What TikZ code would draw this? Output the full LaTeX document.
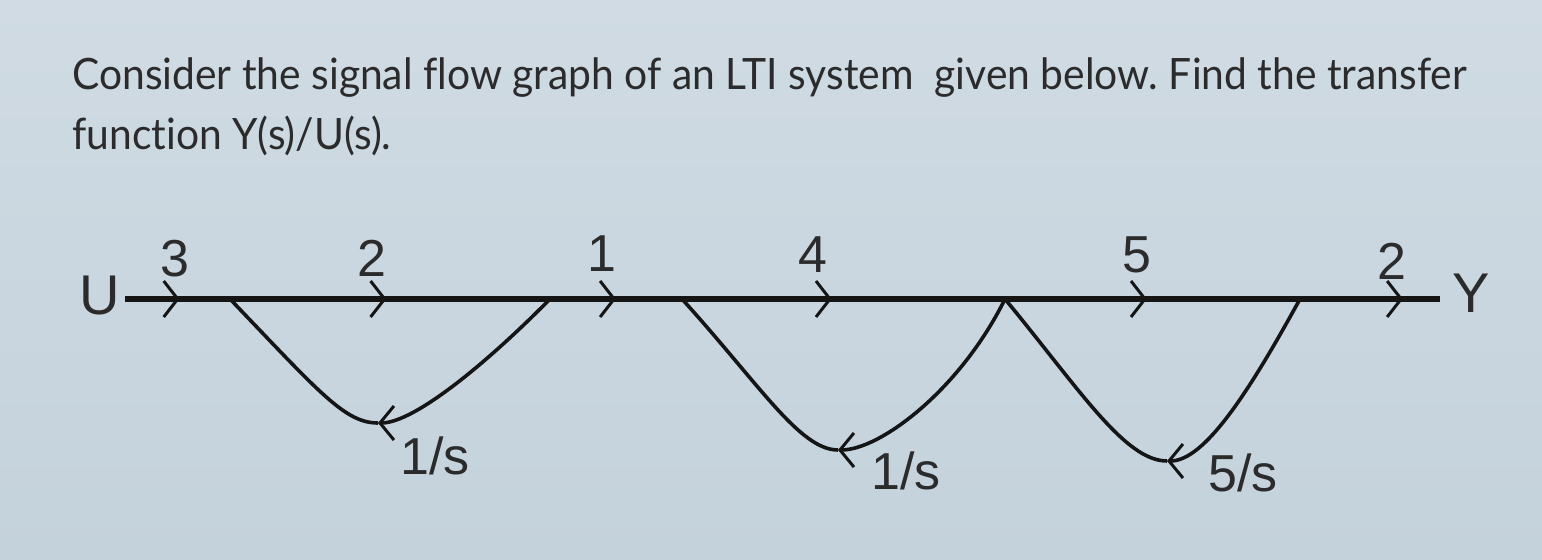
\documentclass[tikz,border=0pt]{standalone}
\usepackage{fontspec}
\setmainfont{Lato}[Ligatures={NoCommon}]
\newfontfamily\arial{Liberation Sans}
\usetikzlibrary{arrows.meta,decorations.markings}
\definecolor{bgtop}{HTML}{D0DBE3}
\definecolor{bgbot}{HTML}{C4D2DC}
\definecolor{ink}{HTML}{151515}
\definecolor{txt}{HTML}{2B2B2B}
\tikzset{
  mainline/.style={draw=ink, line width=2.7pt},
  loopline/.style={draw=ink, line width=1.8pt},
  midarrow/.style={postaction={decorate, decoration={markings, mark=at position #1 with {\arrow[ink]{Straight Barb[length=7pt, width=18pt, line width=1.5pt]}}}}},
  gain/.style={font=\arial\fontsize{26pt}{28pt}\selectfont, text=txt, anchor=base, inner sep=0pt},
  sig/.style={font=\arial\fontsize{28pt}{30pt}\selectfont, text=txt, anchor=base, inner sep=0pt},
  title/.style={anchor=base west, inner sep=0pt, text=txt, font=\fontsize{21.6pt}{30pt}\selectfont}
}
\begin{document}
\frenchspacing
\begin{tikzpicture}[x=0.5pt, y=-0.5pt]
\useasboundingbox (0,0) rectangle (1542,560);
\shade[top color=bgtop, bottom color=bgbot] (0,0) rectangle (1542,560);
% title
\node[title] (t1) at (72,90)
  {\scalebox{0.944}[1]{Consider the signal flow graph of an LTI system\ \ given below. Find the transfer}};
\node[title] (t2) at (72,150)
  {\scalebox{0.944}[1]{function Y(s)/U(s).}};
% signals
\node[sig] (U) at (100,315) {U};
\node[sig] (Y) at (1471,313) {Y};
% junctions
\coordinate (s) at (125,299);
\coordinate (n1) at (230,299);
\coordinate (n2) at (550,299);
\coordinate (n3) at (682,299);
\coordinate (n4) at (1005,299);
\coordinate (n5) at (1300,299);
\coordinate (e) at (1440,299);
\coordinate (b1) at (378,423);
\coordinate (b2) at (838,450);
\coordinate (b3) at (1167,461);
% main line branches
\path[mainline, midarrow=0.52] (s) -- (n1);
\path[mainline, midarrow=0.489] (n1) -- (n2);
\path[mainline, midarrow=0.5] (n2) -- (n3);
\path[mainline, midarrow=0.464] (n3) -- (n4);
\path[mainline, midarrow=0.481] (n4) -- (n5);
\path[mainline, midarrow=0.736] (n5) -- (e);
% loops
\draw[loopline, -{Straight Barb[length=7pt, width=17pt, line width=1.5pt]}] (n2) .. controls (490,360) and (415,423) .. (b1);
\draw[loopline] (b1) .. controls (345,423) and (320,393) .. (n1);
\draw[loopline, -{Straight Barb[length=7pt, width=17pt, line width=1.5pt]}] (n4) .. controls (960,390) and (880,450) .. (b2);
\draw[loopline] (b2) .. controls (800,450) and (760,385) .. (n3);
\draw[loopline, -{Straight Barb[length=7pt, width=17pt, line width=1.5pt]}] (n5) .. controls (1250,390) and (1205,461) .. (b3);
\draw[loopline] (b3) .. controls (1125,461) and (1080,390) .. (n4);
% gains
\node[gain] (g1) at (175,277) {3};
\node[gain] (g2) at (372,277) {2};
\node[gain] (g3) at (602,272) {1};
\node[gain] (g4) at (813,273) {4};
\node[gain] (g5) at (1137,273) {5};
\node[gain] (g6) at (1392,280) {2};
\node[gain] (l1) at (435,475) {1/s};
\node[gain] (l2) at (906,490) {1/s};
\node[gain] (l3) at (1243,492) {5/s};
\end{tikzpicture}
\end{document}
